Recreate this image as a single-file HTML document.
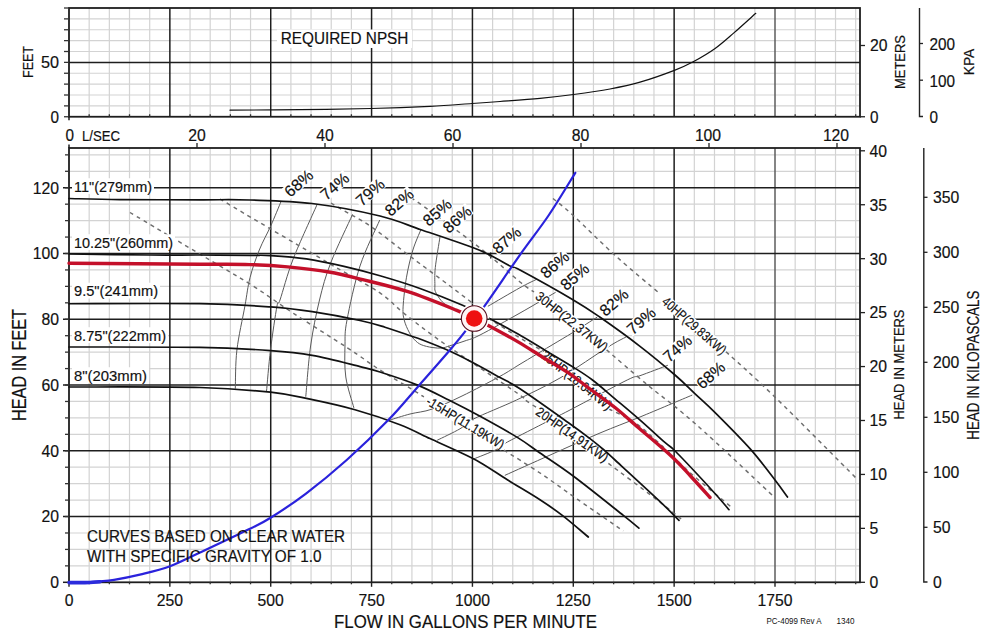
<!DOCTYPE html><html><head><meta charset="utf-8"><style>html,body{margin:0;padding:0;background:#fff;width:999px;height:639px;overflow:hidden}svg{display:block}text{font-family:"Liberation Sans",sans-serif}</style></head><body><svg width="999" height="639" viewBox="0 0 999 639"><rect width="999" height="639" fill="#fff"/>
<line x1="89.17" y1="8.00" x2="89.17" y2="116.75" stroke="#d3d3d3" stroke-width="1.2"/>
<line x1="109.34" y1="8.00" x2="109.34" y2="116.75" stroke="#d3d3d3" stroke-width="1.2"/>
<line x1="129.51" y1="8.00" x2="129.51" y2="116.75" stroke="#d3d3d3" stroke-width="1.2"/>
<line x1="149.69" y1="8.00" x2="149.69" y2="116.75" stroke="#d3d3d3" stroke-width="1.2"/>
<line x1="190.03" y1="8.00" x2="190.03" y2="116.75" stroke="#d3d3d3" stroke-width="1.2"/>
<line x1="210.20" y1="8.00" x2="210.20" y2="116.75" stroke="#d3d3d3" stroke-width="1.2"/>
<line x1="230.37" y1="8.00" x2="230.37" y2="116.75" stroke="#d3d3d3" stroke-width="1.2"/>
<line x1="250.54" y1="8.00" x2="250.54" y2="116.75" stroke="#d3d3d3" stroke-width="1.2"/>
<line x1="290.89" y1="8.00" x2="290.89" y2="116.75" stroke="#d3d3d3" stroke-width="1.2"/>
<line x1="311.06" y1="8.00" x2="311.06" y2="116.75" stroke="#d3d3d3" stroke-width="1.2"/>
<line x1="331.23" y1="8.00" x2="331.23" y2="116.75" stroke="#d3d3d3" stroke-width="1.2"/>
<line x1="351.40" y1="8.00" x2="351.40" y2="116.75" stroke="#d3d3d3" stroke-width="1.2"/>
<line x1="391.74" y1="8.00" x2="391.74" y2="116.75" stroke="#d3d3d3" stroke-width="1.2"/>
<line x1="411.92" y1="8.00" x2="411.92" y2="116.75" stroke="#d3d3d3" stroke-width="1.2"/>
<line x1="432.09" y1="8.00" x2="432.09" y2="116.75" stroke="#d3d3d3" stroke-width="1.2"/>
<line x1="452.26" y1="8.00" x2="452.26" y2="116.75" stroke="#d3d3d3" stroke-width="1.2"/>
<line x1="492.60" y1="8.00" x2="492.60" y2="116.75" stroke="#d3d3d3" stroke-width="1.2"/>
<line x1="512.77" y1="8.00" x2="512.77" y2="116.75" stroke="#d3d3d3" stroke-width="1.2"/>
<line x1="532.94" y1="8.00" x2="532.94" y2="116.75" stroke="#d3d3d3" stroke-width="1.2"/>
<line x1="553.12" y1="8.00" x2="553.12" y2="116.75" stroke="#d3d3d3" stroke-width="1.2"/>
<line x1="593.46" y1="8.00" x2="593.46" y2="116.75" stroke="#d3d3d3" stroke-width="1.2"/>
<line x1="613.63" y1="8.00" x2="613.63" y2="116.75" stroke="#d3d3d3" stroke-width="1.2"/>
<line x1="633.80" y1="8.00" x2="633.80" y2="116.75" stroke="#d3d3d3" stroke-width="1.2"/>
<line x1="653.97" y1="8.00" x2="653.97" y2="116.75" stroke="#d3d3d3" stroke-width="1.2"/>
<line x1="694.32" y1="8.00" x2="694.32" y2="116.75" stroke="#d3d3d3" stroke-width="1.2"/>
<line x1="714.49" y1="8.00" x2="714.49" y2="116.75" stroke="#d3d3d3" stroke-width="1.2"/>
<line x1="734.66" y1="8.00" x2="734.66" y2="116.75" stroke="#d3d3d3" stroke-width="1.2"/>
<line x1="754.83" y1="8.00" x2="754.83" y2="116.75" stroke="#d3d3d3" stroke-width="1.2"/>
<line x1="795.17" y1="8.00" x2="795.17" y2="116.75" stroke="#d3d3d3" stroke-width="1.2"/>
<line x1="815.35" y1="8.00" x2="815.35" y2="116.75" stroke="#d3d3d3" stroke-width="1.2"/>
<line x1="835.52" y1="8.00" x2="835.52" y2="116.75" stroke="#d3d3d3" stroke-width="1.2"/>
<line x1="855.69" y1="8.00" x2="855.69" y2="116.75" stroke="#d3d3d3" stroke-width="1.2"/>
<line x1="69.00" y1="105.88" x2="860.00" y2="105.88" stroke="#d3d3d3" stroke-width="1.2"/>
<line x1="69.00" y1="95.00" x2="860.00" y2="95.00" stroke="#d3d3d3" stroke-width="1.2"/>
<line x1="69.00" y1="84.12" x2="860.00" y2="84.12" stroke="#d3d3d3" stroke-width="1.2"/>
<line x1="69.00" y1="73.25" x2="860.00" y2="73.25" stroke="#d3d3d3" stroke-width="1.2"/>
<line x1="69.00" y1="51.50" x2="860.00" y2="51.50" stroke="#d3d3d3" stroke-width="1.2"/>
<line x1="69.00" y1="40.62" x2="860.00" y2="40.62" stroke="#d3d3d3" stroke-width="1.2"/>
<line x1="69.00" y1="29.75" x2="860.00" y2="29.75" stroke="#d3d3d3" stroke-width="1.2"/>
<line x1="69.00" y1="18.88" x2="860.00" y2="18.88" stroke="#d3d3d3" stroke-width="1.2"/>
<line x1="89.17" y1="148.00" x2="89.17" y2="582.30" stroke="#d3d3d3" stroke-width="1.2"/>
<line x1="109.34" y1="148.00" x2="109.34" y2="582.30" stroke="#d3d3d3" stroke-width="1.2"/>
<line x1="129.51" y1="148.00" x2="129.51" y2="582.30" stroke="#d3d3d3" stroke-width="1.2"/>
<line x1="149.69" y1="148.00" x2="149.69" y2="582.30" stroke="#d3d3d3" stroke-width="1.2"/>
<line x1="190.03" y1="148.00" x2="190.03" y2="582.30" stroke="#d3d3d3" stroke-width="1.2"/>
<line x1="210.20" y1="148.00" x2="210.20" y2="582.30" stroke="#d3d3d3" stroke-width="1.2"/>
<line x1="230.37" y1="148.00" x2="230.37" y2="582.30" stroke="#d3d3d3" stroke-width="1.2"/>
<line x1="250.54" y1="148.00" x2="250.54" y2="582.30" stroke="#d3d3d3" stroke-width="1.2"/>
<line x1="290.89" y1="148.00" x2="290.89" y2="582.30" stroke="#d3d3d3" stroke-width="1.2"/>
<line x1="311.06" y1="148.00" x2="311.06" y2="582.30" stroke="#d3d3d3" stroke-width="1.2"/>
<line x1="331.23" y1="148.00" x2="331.23" y2="582.30" stroke="#d3d3d3" stroke-width="1.2"/>
<line x1="351.40" y1="148.00" x2="351.40" y2="582.30" stroke="#d3d3d3" stroke-width="1.2"/>
<line x1="391.74" y1="148.00" x2="391.74" y2="582.30" stroke="#d3d3d3" stroke-width="1.2"/>
<line x1="411.92" y1="148.00" x2="411.92" y2="582.30" stroke="#d3d3d3" stroke-width="1.2"/>
<line x1="432.09" y1="148.00" x2="432.09" y2="582.30" stroke="#d3d3d3" stroke-width="1.2"/>
<line x1="452.26" y1="148.00" x2="452.26" y2="582.30" stroke="#d3d3d3" stroke-width="1.2"/>
<line x1="492.60" y1="148.00" x2="492.60" y2="582.30" stroke="#d3d3d3" stroke-width="1.2"/>
<line x1="512.77" y1="148.00" x2="512.77" y2="582.30" stroke="#d3d3d3" stroke-width="1.2"/>
<line x1="532.94" y1="148.00" x2="532.94" y2="582.30" stroke="#d3d3d3" stroke-width="1.2"/>
<line x1="553.12" y1="148.00" x2="553.12" y2="582.30" stroke="#d3d3d3" stroke-width="1.2"/>
<line x1="593.46" y1="148.00" x2="593.46" y2="582.30" stroke="#d3d3d3" stroke-width="1.2"/>
<line x1="613.63" y1="148.00" x2="613.63" y2="582.30" stroke="#d3d3d3" stroke-width="1.2"/>
<line x1="633.80" y1="148.00" x2="633.80" y2="582.30" stroke="#d3d3d3" stroke-width="1.2"/>
<line x1="653.97" y1="148.00" x2="653.97" y2="582.30" stroke="#d3d3d3" stroke-width="1.2"/>
<line x1="694.32" y1="148.00" x2="694.32" y2="582.30" stroke="#d3d3d3" stroke-width="1.2"/>
<line x1="714.49" y1="148.00" x2="714.49" y2="582.30" stroke="#d3d3d3" stroke-width="1.2"/>
<line x1="734.66" y1="148.00" x2="734.66" y2="582.30" stroke="#d3d3d3" stroke-width="1.2"/>
<line x1="754.83" y1="148.00" x2="754.83" y2="582.30" stroke="#d3d3d3" stroke-width="1.2"/>
<line x1="795.17" y1="148.00" x2="795.17" y2="582.30" stroke="#d3d3d3" stroke-width="1.2"/>
<line x1="815.35" y1="148.00" x2="815.35" y2="582.30" stroke="#d3d3d3" stroke-width="1.2"/>
<line x1="835.52" y1="148.00" x2="835.52" y2="582.30" stroke="#d3d3d3" stroke-width="1.2"/>
<line x1="855.69" y1="148.00" x2="855.69" y2="582.30" stroke="#d3d3d3" stroke-width="1.2"/>
<line x1="69.00" y1="565.86" x2="860.00" y2="565.86" stroke="#d3d3d3" stroke-width="1.2"/>
<line x1="69.00" y1="549.42" x2="860.00" y2="549.42" stroke="#d3d3d3" stroke-width="1.2"/>
<line x1="69.00" y1="532.98" x2="860.00" y2="532.98" stroke="#d3d3d3" stroke-width="1.2"/>
<line x1="69.00" y1="500.10" x2="860.00" y2="500.10" stroke="#d3d3d3" stroke-width="1.2"/>
<line x1="69.00" y1="483.66" x2="860.00" y2="483.66" stroke="#d3d3d3" stroke-width="1.2"/>
<line x1="69.00" y1="467.22" x2="860.00" y2="467.22" stroke="#d3d3d3" stroke-width="1.2"/>
<line x1="69.00" y1="434.34" x2="860.00" y2="434.34" stroke="#d3d3d3" stroke-width="1.2"/>
<line x1="69.00" y1="417.90" x2="860.00" y2="417.90" stroke="#d3d3d3" stroke-width="1.2"/>
<line x1="69.00" y1="401.46" x2="860.00" y2="401.46" stroke="#d3d3d3" stroke-width="1.2"/>
<line x1="69.00" y1="368.58" x2="860.00" y2="368.58" stroke="#d3d3d3" stroke-width="1.2"/>
<line x1="69.00" y1="352.14" x2="860.00" y2="352.14" stroke="#d3d3d3" stroke-width="1.2"/>
<line x1="69.00" y1="335.70" x2="860.00" y2="335.70" stroke="#d3d3d3" stroke-width="1.2"/>
<line x1="69.00" y1="302.82" x2="860.00" y2="302.82" stroke="#d3d3d3" stroke-width="1.2"/>
<line x1="69.00" y1="286.38" x2="860.00" y2="286.38" stroke="#d3d3d3" stroke-width="1.2"/>
<line x1="69.00" y1="269.94" x2="860.00" y2="269.94" stroke="#d3d3d3" stroke-width="1.2"/>
<line x1="69.00" y1="237.06" x2="860.00" y2="237.06" stroke="#d3d3d3" stroke-width="1.2"/>
<line x1="69.00" y1="220.62" x2="860.00" y2="220.62" stroke="#d3d3d3" stroke-width="1.2"/>
<line x1="69.00" y1="204.18" x2="860.00" y2="204.18" stroke="#d3d3d3" stroke-width="1.2"/>
<line x1="69.00" y1="171.30" x2="860.00" y2="171.30" stroke="#d3d3d3" stroke-width="1.2"/>
<line x1="69.00" y1="154.86" x2="860.00" y2="154.86" stroke="#d3d3d3" stroke-width="1.2"/>
<line x1="169.86" y1="8.00" x2="169.86" y2="116.75" stroke="#1e1e1e" stroke-width="1.5"/>
<line x1="169.86" y1="148.00" x2="169.86" y2="582.30" stroke="#1e1e1e" stroke-width="1.5"/>
<line x1="270.72" y1="8.00" x2="270.72" y2="116.75" stroke="#1e1e1e" stroke-width="1.5"/>
<line x1="270.72" y1="148.00" x2="270.72" y2="582.30" stroke="#1e1e1e" stroke-width="1.5"/>
<line x1="371.57" y1="8.00" x2="371.57" y2="116.75" stroke="#1e1e1e" stroke-width="1.5"/>
<line x1="371.57" y1="148.00" x2="371.57" y2="582.30" stroke="#1e1e1e" stroke-width="1.5"/>
<line x1="472.43" y1="8.00" x2="472.43" y2="116.75" stroke="#1e1e1e" stroke-width="1.5"/>
<line x1="472.43" y1="148.00" x2="472.43" y2="582.30" stroke="#1e1e1e" stroke-width="1.5"/>
<line x1="573.29" y1="8.00" x2="573.29" y2="116.75" stroke="#1e1e1e" stroke-width="1.5"/>
<line x1="573.29" y1="148.00" x2="573.29" y2="582.30" stroke="#1e1e1e" stroke-width="1.5"/>
<line x1="674.14" y1="8.00" x2="674.14" y2="116.75" stroke="#1e1e1e" stroke-width="1.5"/>
<line x1="674.14" y1="148.00" x2="674.14" y2="582.30" stroke="#1e1e1e" stroke-width="1.5"/>
<line x1="775.00" y1="8.00" x2="775.00" y2="116.75" stroke="#5c5c5c" stroke-width="1.5"/>
<line x1="775.00" y1="148.00" x2="775.00" y2="582.30" stroke="#5c5c5c" stroke-width="1.5"/>
<line x1="69.00" y1="62.38" x2="860.00" y2="62.38" stroke="#1e1e1e" stroke-width="1.5"/>
<line x1="63.00" y1="516.54" x2="860.00" y2="516.54" stroke="#1e1e1e" stroke-width="1.5"/>
<line x1="63.00" y1="450.78" x2="860.00" y2="450.78" stroke="#1e1e1e" stroke-width="1.5"/>
<line x1="63.00" y1="385.02" x2="860.00" y2="385.02" stroke="#1e1e1e" stroke-width="1.5"/>
<line x1="63.00" y1="319.26" x2="860.00" y2="319.26" stroke="#1e1e1e" stroke-width="1.5"/>
<line x1="63.00" y1="253.50" x2="860.00" y2="253.50" stroke="#1e1e1e" stroke-width="1.5"/>
<line x1="63.00" y1="187.74" x2="860.00" y2="187.74" stroke="#1e1e1e" stroke-width="1.5"/>
<rect x="69.00" y="8.00" width="791.00" height="108.75" fill="none" stroke="#1e1e1e" stroke-width="1.8"/>
<rect x="69.00" y="148.00" width="791.00" height="434.30" fill="none" stroke="#1e1e1e" stroke-width="1.8"/>
<line x1="65.00" y1="565.86" x2="69.00" y2="565.86" stroke="#333" stroke-width="1.3"/>
<line x1="65.00" y1="549.42" x2="69.00" y2="549.42" stroke="#333" stroke-width="1.3"/>
<line x1="65.00" y1="532.98" x2="69.00" y2="532.98" stroke="#333" stroke-width="1.3"/>
<line x1="65.00" y1="516.54" x2="69.00" y2="516.54" stroke="#333" stroke-width="1.3"/>
<line x1="65.00" y1="500.10" x2="69.00" y2="500.10" stroke="#333" stroke-width="1.3"/>
<line x1="65.00" y1="483.66" x2="69.00" y2="483.66" stroke="#333" stroke-width="1.3"/>
<line x1="65.00" y1="467.22" x2="69.00" y2="467.22" stroke="#333" stroke-width="1.3"/>
<line x1="65.00" y1="450.78" x2="69.00" y2="450.78" stroke="#333" stroke-width="1.3"/>
<line x1="65.00" y1="434.34" x2="69.00" y2="434.34" stroke="#333" stroke-width="1.3"/>
<line x1="65.00" y1="417.90" x2="69.00" y2="417.90" stroke="#333" stroke-width="1.3"/>
<line x1="65.00" y1="401.46" x2="69.00" y2="401.46" stroke="#333" stroke-width="1.3"/>
<line x1="65.00" y1="385.02" x2="69.00" y2="385.02" stroke="#333" stroke-width="1.3"/>
<line x1="65.00" y1="368.58" x2="69.00" y2="368.58" stroke="#333" stroke-width="1.3"/>
<line x1="65.00" y1="352.14" x2="69.00" y2="352.14" stroke="#333" stroke-width="1.3"/>
<line x1="65.00" y1="335.70" x2="69.00" y2="335.70" stroke="#333" stroke-width="1.3"/>
<line x1="65.00" y1="319.26" x2="69.00" y2="319.26" stroke="#333" stroke-width="1.3"/>
<line x1="65.00" y1="302.82" x2="69.00" y2="302.82" stroke="#333" stroke-width="1.3"/>
<line x1="65.00" y1="286.38" x2="69.00" y2="286.38" stroke="#333" stroke-width="1.3"/>
<line x1="65.00" y1="269.94" x2="69.00" y2="269.94" stroke="#333" stroke-width="1.3"/>
<line x1="65.00" y1="253.50" x2="69.00" y2="253.50" stroke="#333" stroke-width="1.3"/>
<line x1="65.00" y1="237.06" x2="69.00" y2="237.06" stroke="#333" stroke-width="1.3"/>
<line x1="65.00" y1="220.62" x2="69.00" y2="220.62" stroke="#333" stroke-width="1.3"/>
<line x1="65.00" y1="204.18" x2="69.00" y2="204.18" stroke="#333" stroke-width="1.3"/>
<line x1="65.00" y1="187.74" x2="69.00" y2="187.74" stroke="#333" stroke-width="1.3"/>
<line x1="65.00" y1="171.30" x2="69.00" y2="171.30" stroke="#333" stroke-width="1.3"/>
<line x1="65.00" y1="154.86" x2="69.00" y2="154.86" stroke="#333" stroke-width="1.3"/>
<line x1="63.00" y1="582.30" x2="69.00" y2="582.30" stroke="#1e1e1e" stroke-width="1.5"/>
<line x1="69.00" y1="582.30" x2="69.00" y2="586.80" stroke="#222" stroke-width="1.4"/>
<line x1="89.17" y1="582.30" x2="89.17" y2="584.30" stroke="#333" stroke-width="1.3"/>
<line x1="89.17" y1="116.75" x2="89.17" y2="114.25" stroke="#333" stroke-width="1.3"/>
<line x1="109.34" y1="582.30" x2="109.34" y2="584.30" stroke="#333" stroke-width="1.3"/>
<line x1="109.34" y1="116.75" x2="109.34" y2="114.25" stroke="#333" stroke-width="1.3"/>
<line x1="129.51" y1="582.30" x2="129.51" y2="584.30" stroke="#333" stroke-width="1.3"/>
<line x1="129.51" y1="116.75" x2="129.51" y2="114.25" stroke="#333" stroke-width="1.3"/>
<line x1="149.69" y1="582.30" x2="149.69" y2="584.30" stroke="#333" stroke-width="1.3"/>
<line x1="149.69" y1="116.75" x2="149.69" y2="114.25" stroke="#333" stroke-width="1.3"/>
<line x1="169.86" y1="582.30" x2="169.86" y2="586.80" stroke="#222" stroke-width="1.4"/>
<line x1="190.03" y1="582.30" x2="190.03" y2="584.30" stroke="#333" stroke-width="1.3"/>
<line x1="190.03" y1="116.75" x2="190.03" y2="114.25" stroke="#333" stroke-width="1.3"/>
<line x1="210.20" y1="582.30" x2="210.20" y2="584.30" stroke="#333" stroke-width="1.3"/>
<line x1="210.20" y1="116.75" x2="210.20" y2="114.25" stroke="#333" stroke-width="1.3"/>
<line x1="230.37" y1="582.30" x2="230.37" y2="584.30" stroke="#333" stroke-width="1.3"/>
<line x1="230.37" y1="116.75" x2="230.37" y2="114.25" stroke="#333" stroke-width="1.3"/>
<line x1="250.54" y1="582.30" x2="250.54" y2="584.30" stroke="#333" stroke-width="1.3"/>
<line x1="250.54" y1="116.75" x2="250.54" y2="114.25" stroke="#333" stroke-width="1.3"/>
<line x1="270.72" y1="582.30" x2="270.72" y2="586.80" stroke="#222" stroke-width="1.4"/>
<line x1="290.89" y1="582.30" x2="290.89" y2="584.30" stroke="#333" stroke-width="1.3"/>
<line x1="290.89" y1="116.75" x2="290.89" y2="114.25" stroke="#333" stroke-width="1.3"/>
<line x1="311.06" y1="582.30" x2="311.06" y2="584.30" stroke="#333" stroke-width="1.3"/>
<line x1="311.06" y1="116.75" x2="311.06" y2="114.25" stroke="#333" stroke-width="1.3"/>
<line x1="331.23" y1="582.30" x2="331.23" y2="584.30" stroke="#333" stroke-width="1.3"/>
<line x1="331.23" y1="116.75" x2="331.23" y2="114.25" stroke="#333" stroke-width="1.3"/>
<line x1="351.40" y1="582.30" x2="351.40" y2="584.30" stroke="#333" stroke-width="1.3"/>
<line x1="351.40" y1="116.75" x2="351.40" y2="114.25" stroke="#333" stroke-width="1.3"/>
<line x1="371.57" y1="582.30" x2="371.57" y2="586.80" stroke="#222" stroke-width="1.4"/>
<line x1="391.74" y1="582.30" x2="391.74" y2="584.30" stroke="#333" stroke-width="1.3"/>
<line x1="391.74" y1="116.75" x2="391.74" y2="114.25" stroke="#333" stroke-width="1.3"/>
<line x1="411.92" y1="582.30" x2="411.92" y2="584.30" stroke="#333" stroke-width="1.3"/>
<line x1="411.92" y1="116.75" x2="411.92" y2="114.25" stroke="#333" stroke-width="1.3"/>
<line x1="432.09" y1="582.30" x2="432.09" y2="584.30" stroke="#333" stroke-width="1.3"/>
<line x1="432.09" y1="116.75" x2="432.09" y2="114.25" stroke="#333" stroke-width="1.3"/>
<line x1="452.26" y1="582.30" x2="452.26" y2="584.30" stroke="#333" stroke-width="1.3"/>
<line x1="452.26" y1="116.75" x2="452.26" y2="114.25" stroke="#333" stroke-width="1.3"/>
<line x1="472.43" y1="582.30" x2="472.43" y2="586.80" stroke="#222" stroke-width="1.4"/>
<line x1="492.60" y1="582.30" x2="492.60" y2="584.30" stroke="#333" stroke-width="1.3"/>
<line x1="492.60" y1="116.75" x2="492.60" y2="114.25" stroke="#333" stroke-width="1.3"/>
<line x1="512.77" y1="582.30" x2="512.77" y2="584.30" stroke="#333" stroke-width="1.3"/>
<line x1="512.77" y1="116.75" x2="512.77" y2="114.25" stroke="#333" stroke-width="1.3"/>
<line x1="532.94" y1="582.30" x2="532.94" y2="584.30" stroke="#333" stroke-width="1.3"/>
<line x1="532.94" y1="116.75" x2="532.94" y2="114.25" stroke="#333" stroke-width="1.3"/>
<line x1="553.12" y1="582.30" x2="553.12" y2="584.30" stroke="#333" stroke-width="1.3"/>
<line x1="553.12" y1="116.75" x2="553.12" y2="114.25" stroke="#333" stroke-width="1.3"/>
<line x1="573.29" y1="582.30" x2="573.29" y2="586.80" stroke="#222" stroke-width="1.4"/>
<line x1="593.46" y1="582.30" x2="593.46" y2="584.30" stroke="#333" stroke-width="1.3"/>
<line x1="593.46" y1="116.75" x2="593.46" y2="114.25" stroke="#333" stroke-width="1.3"/>
<line x1="613.63" y1="582.30" x2="613.63" y2="584.30" stroke="#333" stroke-width="1.3"/>
<line x1="613.63" y1="116.75" x2="613.63" y2="114.25" stroke="#333" stroke-width="1.3"/>
<line x1="633.80" y1="582.30" x2="633.80" y2="584.30" stroke="#333" stroke-width="1.3"/>
<line x1="633.80" y1="116.75" x2="633.80" y2="114.25" stroke="#333" stroke-width="1.3"/>
<line x1="653.97" y1="582.30" x2="653.97" y2="584.30" stroke="#333" stroke-width="1.3"/>
<line x1="653.97" y1="116.75" x2="653.97" y2="114.25" stroke="#333" stroke-width="1.3"/>
<line x1="674.14" y1="582.30" x2="674.14" y2="586.80" stroke="#222" stroke-width="1.4"/>
<line x1="694.32" y1="582.30" x2="694.32" y2="584.30" stroke="#333" stroke-width="1.3"/>
<line x1="694.32" y1="116.75" x2="694.32" y2="114.25" stroke="#333" stroke-width="1.3"/>
<line x1="714.49" y1="582.30" x2="714.49" y2="584.30" stroke="#333" stroke-width="1.3"/>
<line x1="714.49" y1="116.75" x2="714.49" y2="114.25" stroke="#333" stroke-width="1.3"/>
<line x1="734.66" y1="582.30" x2="734.66" y2="584.30" stroke="#333" stroke-width="1.3"/>
<line x1="734.66" y1="116.75" x2="734.66" y2="114.25" stroke="#333" stroke-width="1.3"/>
<line x1="754.83" y1="582.30" x2="754.83" y2="584.30" stroke="#333" stroke-width="1.3"/>
<line x1="754.83" y1="116.75" x2="754.83" y2="114.25" stroke="#333" stroke-width="1.3"/>
<line x1="775.00" y1="582.30" x2="775.00" y2="586.80" stroke="#222" stroke-width="1.4"/>
<line x1="795.17" y1="582.30" x2="795.17" y2="584.30" stroke="#333" stroke-width="1.3"/>
<line x1="795.17" y1="116.75" x2="795.17" y2="114.25" stroke="#333" stroke-width="1.3"/>
<line x1="815.35" y1="582.30" x2="815.35" y2="584.30" stroke="#333" stroke-width="1.3"/>
<line x1="815.35" y1="116.75" x2="815.35" y2="114.25" stroke="#333" stroke-width="1.3"/>
<line x1="835.52" y1="582.30" x2="835.52" y2="584.30" stroke="#333" stroke-width="1.3"/>
<line x1="835.52" y1="116.75" x2="835.52" y2="114.25" stroke="#333" stroke-width="1.3"/>
<line x1="855.69" y1="582.30" x2="855.69" y2="584.30" stroke="#333" stroke-width="1.3"/>
<line x1="855.69" y1="116.75" x2="855.69" y2="114.25" stroke="#333" stroke-width="1.3"/>
<line x1="64.00" y1="116.75" x2="69.00" y2="116.75" stroke="#333" stroke-width="1.3"/>
<line x1="64.00" y1="105.88" x2="69.00" y2="105.88" stroke="#333" stroke-width="1.3"/>
<line x1="64.00" y1="95.00" x2="69.00" y2="95.00" stroke="#333" stroke-width="1.3"/>
<line x1="64.00" y1="84.12" x2="69.00" y2="84.12" stroke="#333" stroke-width="1.3"/>
<line x1="64.00" y1="73.25" x2="69.00" y2="73.25" stroke="#333" stroke-width="1.3"/>
<line x1="64.00" y1="62.38" x2="69.00" y2="62.38" stroke="#333" stroke-width="1.3"/>
<line x1="64.00" y1="51.50" x2="69.00" y2="51.50" stroke="#333" stroke-width="1.3"/>
<line x1="64.00" y1="40.62" x2="69.00" y2="40.62" stroke="#333" stroke-width="1.3"/>
<line x1="64.00" y1="29.75" x2="69.00" y2="29.75" stroke="#333" stroke-width="1.3"/>
<line x1="64.00" y1="18.88" x2="69.00" y2="18.88" stroke="#333" stroke-width="1.3"/>
<line x1="64.00" y1="8.00" x2="69.00" y2="8.00" stroke="#333" stroke-width="1.3"/>
<line x1="69.00" y1="116.75" x2="69.00" y2="120.25" stroke="#1e1e1e" stroke-width="1.5"/>
<line x1="69.00" y1="144.50" x2="69.00" y2="148.00" stroke="#1e1e1e" stroke-width="1.5"/>
<line x1="197.00" y1="148.00" x2="197.00" y2="143.00" stroke="#222" stroke-width="1.3"/>
<line x1="325.00" y1="148.00" x2="325.00" y2="143.00" stroke="#222" stroke-width="1.3"/>
<line x1="453.00" y1="148.00" x2="453.00" y2="143.00" stroke="#222" stroke-width="1.3"/>
<line x1="581.00" y1="148.00" x2="581.00" y2="143.00" stroke="#222" stroke-width="1.3"/>
<line x1="709.00" y1="148.00" x2="709.00" y2="143.00" stroke="#222" stroke-width="1.3"/>
<line x1="837.00" y1="148.00" x2="837.00" y2="143.00" stroke="#222" stroke-width="1.3"/>
<line x1="860.00" y1="45.50" x2="865.00" y2="45.50" stroke="#222" stroke-width="1.3"/>
<line x1="860.00" y1="116.75" x2="865.00" y2="116.75" stroke="#222" stroke-width="1.3"/>
<path d="M919.5,8 V116.5 H923" fill="none" stroke="#222" stroke-width="1.4"/>
<line x1="919.50" y1="43.50" x2="923.00" y2="43.50" stroke="#222" stroke-width="1.3"/>
<line x1="919.50" y1="80.20" x2="923.00" y2="80.20" stroke="#222" stroke-width="1.3"/>
<line x1="860.00" y1="582.30" x2="865.00" y2="582.30" stroke="#222" stroke-width="1.3"/>
<line x1="860.00" y1="528.36" x2="865.00" y2="528.36" stroke="#222" stroke-width="1.3"/>
<line x1="860.00" y1="474.43" x2="865.00" y2="474.43" stroke="#222" stroke-width="1.3"/>
<line x1="860.00" y1="420.49" x2="865.00" y2="420.49" stroke="#222" stroke-width="1.3"/>
<line x1="860.00" y1="366.55" x2="865.00" y2="366.55" stroke="#222" stroke-width="1.3"/>
<line x1="860.00" y1="312.61" x2="865.00" y2="312.61" stroke="#222" stroke-width="1.3"/>
<line x1="860.00" y1="258.68" x2="865.00" y2="258.68" stroke="#222" stroke-width="1.3"/>
<line x1="860.00" y1="204.74" x2="865.00" y2="204.74" stroke="#222" stroke-width="1.3"/>
<line x1="860.00" y1="150.80" x2="865.00" y2="150.80" stroke="#222" stroke-width="1.3"/>
<path d="M923.8,148 V582 H927.5" fill="none" stroke="#222" stroke-width="1.4"/>
<line x1="923.80" y1="527.30" x2="927.50" y2="527.30" stroke="#222" stroke-width="1.3"/>
<line x1="923.80" y1="472.30" x2="927.50" y2="472.30" stroke="#222" stroke-width="1.3"/>
<line x1="923.80" y1="417.30" x2="927.50" y2="417.30" stroke="#222" stroke-width="1.3"/>
<line x1="923.80" y1="362.30" x2="927.50" y2="362.30" stroke="#222" stroke-width="1.3"/>
<line x1="923.80" y1="307.30" x2="927.50" y2="307.30" stroke="#222" stroke-width="1.3"/>
<line x1="923.80" y1="252.30" x2="927.50" y2="252.30" stroke="#222" stroke-width="1.3"/>
<line x1="923.80" y1="197.30" x2="927.50" y2="197.30" stroke="#222" stroke-width="1.3"/>
<path d="M230.00,110.20 C241.67,110.10 276.50,109.88 300.00,109.60 C323.50,109.32 349.33,109.05 371.00,108.50 C392.67,107.95 413.17,107.13 430.00,106.30 C446.83,105.47 460.33,104.30 472.00,103.50 C483.67,102.70 488.67,102.37 500.00,101.50 C511.33,100.63 527.75,99.47 540.00,98.30 C552.25,97.13 561.83,96.05 573.50,94.50 C585.17,92.95 598.92,91.05 610.00,89.00 C621.08,86.95 629.27,85.30 640.00,82.20 C650.73,79.10 665.53,73.80 674.40,70.40 C683.27,67.00 686.42,65.45 693.20,61.80 C699.98,58.15 708.32,53.32 715.10,48.50 C721.88,43.68 727.12,38.77 733.90,32.90 C740.68,27.03 752.15,16.57 755.80,13.30" fill="none" stroke="#111" stroke-width="1.2" stroke-linecap="round" stroke-linejoin="round" />
<path d="M281.00,201.60 C279.28,205.67 274.32,217.93 270.70,226.00 C267.08,234.07 262.75,241.38 259.30,250.00 C255.85,258.62 252.40,268.35 250.00,277.70 C247.60,287.05 247.08,294.05 244.90,306.10 C242.72,318.15 238.50,336.30 236.90,350.00 C235.30,363.70 235.57,381.92 235.30,388.30" fill="none" stroke="#5a5a5a" stroke-width="1.0" stroke-linecap="round" stroke-linejoin="round" />
<path d="M316.70,205.40 C312.78,214.32 299.32,243.13 293.20,258.90 C287.08,274.67 282.70,292.15 280.00,300.00 C277.30,307.85 278.58,297.67 277.00,306.00 C275.42,314.33 272.25,335.75 270.50,350.00 C268.75,364.25 267.17,384.58 266.50,391.50" fill="none" stroke="#5a5a5a" stroke-width="1.0" stroke-linecap="round" stroke-linejoin="round" />
<path d="M352.40,214.80 C348.80,222.78 336.28,248.50 330.80,262.70 C325.32,276.90 322.87,286.12 319.50,300.00 C316.13,313.88 312.88,329.95 310.60,346.00 C308.32,362.05 306.60,387.92 305.80,396.30" fill="none" stroke="#5a5a5a" stroke-width="1.0" stroke-linecap="round" stroke-linejoin="round" />
<path d="M379.60,220.40 C376.33,228.00 365.43,249.40 360.00,266.00 C354.57,282.60 349.50,306.83 347.00,320.00 C344.50,333.17 345.20,335.50 345.00,345.00 C344.80,354.50 344.33,366.58 345.80,377.00 C347.27,387.42 352.47,402.42 353.80,407.50" fill="none" stroke="#5a5a5a" stroke-width="1.0" stroke-linecap="round" stroke-linejoin="round" />
<path d="M420.90,229.70 C419.57,233.08 415.30,242.08 412.90,250.00 C410.50,257.92 408.13,267.72 406.50,277.20 C404.87,286.68 403.48,299.77 403.10,306.90 C402.72,314.03 403.20,315.80 404.20,320.00 C405.20,324.20 407.37,328.80 409.10,332.10 C410.83,335.40 412.58,337.70 414.60,339.80 C416.62,341.90 418.28,343.42 421.20,344.70 C424.12,345.98 428.63,346.95 432.10,347.50 C435.57,348.05 439.07,348.28 442.00,348.00 C444.93,347.72 445.87,346.98 449.70,345.80 C453.53,344.62 459.95,342.70 465.00,340.90 C470.05,339.10 470.83,339.65 480.00,335.00 C489.17,330.35 507.45,320.08 520.00,313.00 C532.55,305.92 549.42,295.92 555.30,292.50" fill="none" stroke="#5a5a5a" stroke-width="1.0" stroke-linecap="round" stroke-linejoin="round" />
<path d="M440.00,236.90 C439.22,242.02 436.15,259.58 435.30,267.60 C434.45,275.62 434.88,281.00 434.90,285.00 C434.92,289.00 434.40,289.05 435.40,291.60 C436.40,294.15 439.13,298.07 440.90,300.30 C442.67,302.53 445.15,304.22 446.00,305.00" fill="none" stroke="#5a5a5a" stroke-width="1.0" stroke-linecap="round" stroke-linejoin="round" />
<path d="M488.20,306.10 C493.50,303.03 512.03,292.12 520.00,287.70 C527.97,283.28 533.33,280.95 536.00,279.60" fill="none" stroke="#5a5a5a" stroke-width="1.0" stroke-linecap="round" stroke-linejoin="round" />
<path d="M390.00,420.00 C393.33,419.00 402.98,415.82 410.00,414.00 C417.02,412.18 423.43,412.10 432.10,409.10 C440.77,406.10 450.68,401.47 462.00,396.00 C473.32,390.53 490.33,381.60 500.00,376.30 C509.67,371.00 511.33,369.42 520.00,364.20 C528.67,358.98 543.22,350.27 552.00,345.00 C560.78,339.73 565.22,337.22 572.70,332.60 C580.18,327.98 592.87,319.85 596.90,317.30" fill="none" stroke="#5a5a5a" stroke-width="1.0" stroke-linecap="round" stroke-linejoin="round" />
<path d="M437.50,440.10 C441.25,438.22 453.93,432.35 460.00,428.80 C466.07,425.25 464.48,423.60 473.90,418.80 C483.32,414.00 502.15,406.80 516.50,400.00 C530.85,393.20 544.75,386.83 560.00,378.00 C575.25,369.17 597.00,353.83 608.00,347.00 C619.00,340.17 623.00,338.67 626.00,337.00" fill="none" stroke="#5a5a5a" stroke-width="1.0" stroke-linecap="round" stroke-linejoin="round" />
<path d="M473.90,458.90 C477.45,457.43 490.20,452.60 495.20,450.10 C500.20,447.60 495.97,448.28 503.90,443.90 C511.83,439.52 531.78,429.45 542.80,423.80 C553.82,418.15 555.93,417.30 570.00,410.00 C584.07,402.70 615.53,385.72 627.20,380.00 C638.87,374.28 633.28,378.13 640.00,375.70 C646.72,373.27 662.92,367.12 667.50,365.40" fill="none" stroke="#5a5a5a" stroke-width="1.0" stroke-linecap="round" stroke-linejoin="round" />
<path d="M505.20,475.20 C512.67,471.85 534.20,462.13 550.00,455.10 C565.80,448.07 585.00,439.35 600.00,433.00 C615.00,426.65 624.68,423.30 640.00,417.00 C655.32,410.70 683.25,398.83 691.90,395.20" fill="none" stroke="#5a5a5a" stroke-width="1.0" stroke-linecap="round" stroke-linejoin="round" />
<line x1="490.70" y1="252.50" x2="490.70" y2="258.50" stroke="#111" stroke-width="1.4"/>
<path d="M130.00,212.50 C142.73,220.08 186.08,245.88 206.40,258.00 C226.72,270.12 237.20,275.85 251.90,285.20 C266.60,294.55 278.68,303.67 294.60,314.10 C310.52,324.53 333.17,338.48 347.40,347.80 C361.63,357.12 369.35,363.15 380.00,370.00 C390.65,376.85 403.98,384.40 411.30,388.90 C418.62,393.40 421.80,395.65 423.90,397.00" fill="none" stroke="#6e6e6e" stroke-width="1.45" stroke-linejoin="round" stroke-dasharray="4 4" stroke-linecap="butt"/>
<path d="M503.90,450.10 C509.92,453.92 527.78,464.83 540.00,473.00 C552.22,481.17 563.32,489.43 577.20,499.10 C591.08,508.77 615.62,525.68 623.30,531.00" fill="none" stroke="#6e6e6e" stroke-width="1.45" stroke-linejoin="round" stroke-dasharray="4 4" stroke-linecap="butt"/>
<path d="M220.00,199.00 C225.47,202.25 237.47,209.45 252.80,218.50 C268.13,227.55 297.97,245.05 312.00,253.30 C326.03,261.55 325.73,261.43 337.00,268.00 C348.27,274.57 368.28,285.02 379.60,292.70 C390.92,300.38 394.28,305.72 404.90,314.10 C415.52,322.48 424.62,329.85 443.30,343.00 C461.98,356.15 503.35,383.50 517.00,393.00 C530.65,402.50 521.95,397.58 525.20,400.00 C528.45,402.42 534.62,406.25 536.50,407.50" fill="none" stroke="#6e6e6e" stroke-width="1.45" stroke-linejoin="round" stroke-dasharray="4 4" stroke-linecap="butt"/>
<path d="M608.40,463.40 C616.33,469.35 643.88,489.85 656.00,499.10 C668.12,508.35 676.92,515.60 681.10,518.90" fill="none" stroke="#6e6e6e" stroke-width="1.45" stroke-linejoin="round" stroke-dasharray="4 4" stroke-linecap="butt"/>
<path d="M331.00,203.00 C333.78,204.65 341.17,209.07 347.70,212.90 C354.23,216.73 359.60,218.62 370.20,226.00 C380.80,233.38 398.00,247.20 411.30,257.20 C424.60,267.20 439.85,278.38 450.00,286.00 C460.15,293.62 468.50,300.08 472.20,302.90" fill="none" stroke="#6e6e6e" stroke-width="1.45" stroke-linejoin="round" stroke-dasharray="4 4" stroke-linecap="butt"/>
<path d="M488.00,318.00 C493.33,321.33 510.50,332.33 520.00,338.00 C529.50,343.67 540.83,349.67 545.00,352.00" fill="none" stroke="#6e6e6e" stroke-width="1.45" stroke-linejoin="round" stroke-dasharray="4 4" stroke-linecap="butt"/>
<path d="M609.00,409.00 C613.40,411.33 626.90,417.17 635.40,423.00 C643.90,428.83 650.73,435.58 660.00,444.00 C669.27,452.42 679.15,463.02 691.00,473.50 C702.85,483.98 724.42,501.33 731.10,506.90" fill="none" stroke="#6e6e6e" stroke-width="1.45" stroke-linejoin="round" stroke-dasharray="4 4" stroke-linecap="butt"/>
<path d="M411.30,197.70 C416.37,201.30 429.42,210.25 441.70,219.30 C453.98,228.35 471.95,241.55 485.00,252.00 C498.05,262.45 511.83,275.33 520.00,282.00 C528.17,288.67 531.67,290.33 534.00,292.00" fill="none" stroke="#6e6e6e" stroke-width="1.45" stroke-linejoin="round" stroke-dasharray="4 4" stroke-linecap="butt"/>
<path d="M606.50,349.80 C613.35,355.67 635.35,374.85 647.60,385.00 C659.85,395.15 668.78,401.30 680.00,410.70 C691.22,420.10 699.22,427.02 714.90,441.40 C730.58,455.78 764.23,487.73 774.10,497.00" fill="none" stroke="#6e6e6e" stroke-width="1.45" stroke-linejoin="round" stroke-dasharray="4 4" stroke-linecap="butt"/>
<path d="M553.00,198.50 C556.33,201.30 562.47,205.65 573.00,215.30 C583.53,224.95 601.80,243.40 616.20,256.40 C630.60,269.40 652.20,287.15 659.40,293.30" fill="none" stroke="#6e6e6e" stroke-width="1.45" stroke-linejoin="round" stroke-dasharray="4 4" stroke-linecap="butt"/>
<path d="M726.00,351.70 C734.05,359.15 752.47,375.18 774.30,396.40 C796.13,417.62 843.22,465.23 857.00,479.00" fill="none" stroke="#6e6e6e" stroke-width="1.45" stroke-linejoin="round" stroke-dasharray="4 4" stroke-linecap="butt"/>
<rect x="72.00" y="178.25" width="82.00" height="15.75" fill="#fff"/>
<text x="74.00" y="191.97" font-size="15" text-anchor="start" fill="#111" stroke="#111" stroke-width="0.18" textLength="78.00" lengthAdjust="spacingAndGlyphs">11&quot;(279mm)</text>
<rect x="72.00" y="234.25" width="103.00" height="15.75" fill="#fff"/>
<text x="74.00" y="247.97" font-size="15" text-anchor="start" fill="#111" stroke="#111" stroke-width="0.18" textLength="99.00" lengthAdjust="spacingAndGlyphs">10.25&quot;(260mm)</text>
<rect x="72.00" y="282.75" width="88.00" height="15.75" fill="#fff"/>
<text x="74.00" y="296.47" font-size="15" text-anchor="start" fill="#111" stroke="#111" stroke-width="0.18" textLength="84.00" lengthAdjust="spacingAndGlyphs">9.5&quot;(241mm)</text>
<rect x="72.00" y="327.25" width="96.00" height="15.75" fill="#fff"/>
<text x="74.00" y="340.97" font-size="15" text-anchor="start" fill="#111" stroke="#111" stroke-width="0.18" textLength="92.00" lengthAdjust="spacingAndGlyphs">8.75&quot;(222mm)</text>
<rect x="72.00" y="367.25" width="77.00" height="15.75" fill="#fff"/>
<text x="74.00" y="380.97" font-size="15" text-anchor="start" fill="#111" stroke="#111" stroke-width="0.18" textLength="73.00" lengthAdjust="spacingAndGlyphs">8&quot;(203mm)</text>
<g transform="translate(298.60 183.00) rotate(-41.00)"><rect x="-16.50" y="-6.72" width="33.00" height="13.44" fill="#fff"/></g>
<g transform="translate(298.60 183.00) rotate(-41.00)"><text x="0" y="5.83" font-size="16" text-anchor="middle" fill="#111" stroke="#111" stroke-width="0.18" textLength="32.00" lengthAdjust="spacingAndGlyphs">68%</text></g>
<g transform="translate(334.60 186.00) rotate(-41.00)"><rect x="-16.50" y="-6.72" width="33.00" height="13.44" fill="#fff"/></g>
<g transform="translate(334.60 186.00) rotate(-41.00)"><text x="0" y="5.83" font-size="16" text-anchor="middle" fill="#111" stroke="#111" stroke-width="0.18" textLength="32.00" lengthAdjust="spacingAndGlyphs">74%</text></g>
<g transform="translate(370.00 192.00) rotate(-41.00)"><rect x="-16.50" y="-6.72" width="33.00" height="13.44" fill="#fff"/></g>
<g transform="translate(370.00 192.00) rotate(-41.00)"><text x="0" y="5.83" font-size="16" text-anchor="middle" fill="#111" stroke="#111" stroke-width="0.18" textLength="32.00" lengthAdjust="spacingAndGlyphs">79%</text></g>
<g transform="translate(399.00 202.00) rotate(-41.00)"><rect x="-16.50" y="-6.72" width="33.00" height="13.44" fill="#fff"/></g>
<g transform="translate(399.00 202.00) rotate(-41.00)"><text x="0" y="5.83" font-size="16" text-anchor="middle" fill="#111" stroke="#111" stroke-width="0.18" textLength="32.00" lengthAdjust="spacingAndGlyphs">82%</text></g>
<g transform="translate(437.00 212.00) rotate(-41.00)"><rect x="-16.50" y="-6.72" width="33.00" height="13.44" fill="#fff"/></g>
<g transform="translate(437.00 212.00) rotate(-41.00)"><text x="0" y="5.83" font-size="16" text-anchor="middle" fill="#111" stroke="#111" stroke-width="0.18" textLength="32.00" lengthAdjust="spacingAndGlyphs">85%</text></g>
<g transform="translate(457.00 219.00) rotate(-41.00)"><rect x="-16.50" y="-6.72" width="33.00" height="13.44" fill="#fff"/></g>
<g transform="translate(457.00 219.00) rotate(-41.00)"><text x="0" y="5.83" font-size="16" text-anchor="middle" fill="#111" stroke="#111" stroke-width="0.18" textLength="32.00" lengthAdjust="spacingAndGlyphs">86%</text></g>
<g transform="translate(506.60 239.90) rotate(-41.00)"><rect x="-16.50" y="-6.72" width="33.00" height="13.44" fill="#fff"/></g>
<g transform="translate(506.60 239.90) rotate(-41.00)"><text x="0" y="5.83" font-size="16" text-anchor="middle" fill="#111" stroke="#111" stroke-width="0.18" textLength="32.00" lengthAdjust="spacingAndGlyphs">87%</text></g>
<g transform="translate(554.50 264.40) rotate(-41.00)"><rect x="-16.50" y="-6.72" width="33.00" height="13.44" fill="#fff"/></g>
<g transform="translate(554.50 264.40) rotate(-41.00)"><text x="0" y="5.83" font-size="16" text-anchor="middle" fill="#111" stroke="#111" stroke-width="0.18" textLength="32.00" lengthAdjust="spacingAndGlyphs">86%</text></g>
<g transform="translate(574.50 276.40) rotate(-41.00)"><rect x="-16.50" y="-6.72" width="33.00" height="13.44" fill="#fff"/></g>
<g transform="translate(574.50 276.40) rotate(-41.00)"><text x="0" y="5.83" font-size="16" text-anchor="middle" fill="#111" stroke="#111" stroke-width="0.18" textLength="32.00" lengthAdjust="spacingAndGlyphs">85%</text></g>
<g transform="translate(613.80 302.10) rotate(-41.00)"><rect x="-16.50" y="-6.72" width="33.00" height="13.44" fill="#fff"/></g>
<g transform="translate(613.80 302.10) rotate(-41.00)"><text x="0" y="5.83" font-size="16" text-anchor="middle" fill="#111" stroke="#111" stroke-width="0.18" textLength="32.00" lengthAdjust="spacingAndGlyphs">82%</text></g>
<g transform="translate(641.00 320.50) rotate(-41.00)"><rect x="-16.50" y="-6.72" width="33.00" height="13.44" fill="#fff"/></g>
<g transform="translate(641.00 320.50) rotate(-41.00)"><text x="0" y="5.83" font-size="16" text-anchor="middle" fill="#111" stroke="#111" stroke-width="0.18" textLength="32.00" lengthAdjust="spacingAndGlyphs">79%</text></g>
<g transform="translate(677.20 348.20) rotate(-41.00)"><rect x="-16.50" y="-6.72" width="33.00" height="13.44" fill="#fff"/></g>
<g transform="translate(677.20 348.20) rotate(-41.00)"><text x="0" y="5.83" font-size="16" text-anchor="middle" fill="#111" stroke="#111" stroke-width="0.18" textLength="32.00" lengthAdjust="spacingAndGlyphs">74%</text></g>
<g transform="translate(710.60 375.00) rotate(-41.00)"><rect x="-16.50" y="-6.72" width="33.00" height="13.44" fill="#fff"/></g>
<g transform="translate(710.60 375.00) rotate(-41.00)"><text x="0" y="5.83" font-size="16" text-anchor="middle" fill="#111" stroke="#111" stroke-width="0.18" textLength="32.00" lengthAdjust="spacingAndGlyphs">68%</text></g>
<g transform="translate(465.50 422.50) rotate(31.18)"><rect x="-44.92" y="-5.67" width="89.84" height="11.34" fill="#fff"/></g>
<g transform="translate(465.50 422.50) rotate(31.18)"><text x="0" y="4.92" font-size="13.5" text-anchor="middle" fill="#111" stroke="#111" stroke-width="0.18" textLength="88.84" lengthAdjust="spacingAndGlyphs">-15HP(11.19KW)</text></g>
<g transform="translate(572.50 434.40) rotate(35.00)"><rect x="-43.00" y="-5.67" width="86.00" height="11.34" fill="#fff"/></g>
<g transform="translate(572.50 434.40) rotate(35.00)"><text x="0" y="4.92" font-size="13.5" text-anchor="middle" fill="#111" stroke="#111" stroke-width="0.18" textLength="85.00" lengthAdjust="spacingAndGlyphs">20HP(14.91KW)</text></g>
<g transform="translate(577.00 380.00) rotate(38.50)"><rect x="-43.65" y="-5.67" width="87.30" height="11.34" fill="#fff"/></g>
<g transform="translate(577.00 380.00) rotate(38.50)"><text x="0" y="4.92" font-size="13.5" text-anchor="middle" fill="#111" stroke="#111" stroke-width="0.18" textLength="86.30" lengthAdjust="spacingAndGlyphs">25HP(18.64KW)</text></g>
<g transform="translate(572.00 321.50) rotate(38.30)"><rect x="-44.50" y="-5.67" width="89.00" height="11.34" fill="#fff"/></g>
<g transform="translate(572.00 321.50) rotate(38.30)"><text x="0" y="4.92" font-size="13.5" text-anchor="middle" fill="#111" stroke="#111" stroke-width="0.18" textLength="88.00" lengthAdjust="spacingAndGlyphs">30HP(22.37KW)</text></g>
<g transform="translate(694.50 325.50) rotate(41.00)"><rect x="-40.50" y="-5.67" width="81.00" height="11.34" fill="#fff"/></g>
<g transform="translate(694.50 325.50) rotate(41.00)"><text x="0" y="4.92" font-size="13.5" text-anchor="middle" fill="#111" stroke="#111" stroke-width="0.18" textLength="80.00" lengthAdjust="spacingAndGlyphs">40HP(29.83KW)</text></g>
<path d="M69.00,198.50 C77.50,198.68 98.17,199.38 120.00,199.60 C141.83,199.82 178.33,199.73 200.00,199.80 C221.67,199.87 231.33,199.38 250.00,200.00 C268.67,200.62 290.33,200.83 312.00,203.50 C333.67,206.17 361.83,211.63 380.00,216.00 C398.17,220.37 405.67,224.48 421.00,229.70 C436.33,234.92 460.38,243.02 472.00,247.30 C483.62,251.58 484.15,252.18 490.70,255.40 C497.25,258.62 506.42,264.17 511.30,266.60 C516.18,269.03 509.73,264.48 520.00,270.00 C530.27,275.52 559.55,291.82 572.90,299.70 C586.25,307.58 588.92,309.53 600.10,317.30 C611.28,325.07 627.52,336.68 640.00,346.30 C652.48,355.92 665.82,367.08 675.00,375.00 C684.18,382.92 688.42,387.53 695.10,393.80 C701.78,400.07 705.92,403.42 715.10,412.60 C724.28,421.78 740.18,437.63 750.20,448.90 C760.22,460.17 768.98,472.18 775.20,480.20 C781.42,488.22 785.45,494.20 787.50,497.00" fill="none" stroke="#111" stroke-width="1.7" stroke-linecap="round" stroke-linejoin="round" />
<path d="M69.00,254.00 C82.50,254.17 128.17,254.83 150.00,255.00 C171.83,255.17 183.33,254.95 200.00,255.00 C216.67,255.05 238.22,255.20 250.00,255.30 C261.78,255.40 261.30,255.00 270.70,255.60 C280.10,256.20 294.18,257.10 306.40,258.90 C318.62,260.70 331.73,263.58 344.00,266.40 C356.27,269.22 367.33,272.12 380.00,275.80 C392.67,279.48 406.23,283.58 420.00,288.50 C433.77,293.42 451.35,300.47 462.60,305.30 C473.85,310.13 478.33,312.75 487.50,317.50 C496.67,322.25 508.40,328.58 517.60,333.80 C526.80,339.02 533.30,343.17 542.70,348.80 C552.10,354.43 565.70,362.40 574.00,367.60 C582.30,372.80 585.67,374.80 592.50,380.00 C599.33,385.20 607.07,392.12 615.00,398.80 C622.93,405.48 631.73,412.78 640.10,420.10 C648.47,427.42 659.53,437.72 665.20,442.70 C670.87,447.68 669.10,445.12 674.10,450.00 C679.10,454.88 688.17,464.50 695.20,472.00 C702.23,479.50 710.67,488.72 716.30,495.00 C721.93,501.28 726.88,507.25 729.00,509.70" fill="none" stroke="#111" stroke-width="1.7" stroke-linecap="round" stroke-linejoin="round" />
<path d="M69.00,303.75 C90.83,303.74 166.42,303.18 200.00,303.70 C233.58,304.22 251.80,305.57 270.50,306.90 C289.20,308.23 297.28,309.43 312.20,311.70 C327.12,313.97 347.87,317.92 360.00,320.50 C372.13,323.08 377.00,324.78 385.00,327.20 C393.00,329.62 401.73,332.87 408.00,335.00 C414.27,337.13 415.57,337.28 422.60,340.00 C429.63,342.72 441.85,347.53 450.20,351.30 C458.55,355.07 464.40,358.22 472.70,362.60 C481.00,366.98 492.12,373.23 500.00,377.60 C507.88,381.97 508.65,381.32 520.00,388.80 C531.35,396.28 556.43,414.20 568.10,422.50 C579.77,430.80 584.02,434.02 590.00,438.60 C595.98,443.18 599.83,446.43 604.00,450.00 C608.17,453.57 605.83,451.57 615.00,460.00 C624.17,468.43 648.33,490.55 659.00,500.60 C669.67,510.65 675.67,517.02 679.00,520.30" fill="none" stroke="#111" stroke-width="1.7" stroke-linecap="round" stroke-linejoin="round" />
<path d="M69.00,347.00 C90.83,347.07 166.42,346.80 200.00,347.40 C233.58,348.00 251.80,349.27 270.50,350.60 C289.20,351.93 297.28,352.73 312.20,355.40 C327.12,358.07 348.70,363.83 360.00,366.60 C371.30,369.37 370.40,368.92 380.00,372.00 C389.60,375.08 406.13,380.43 417.60,385.10 C429.07,389.77 438.38,394.80 448.80,400.00 C459.22,405.20 468.62,410.03 480.10,416.30 C491.58,422.57 507.72,431.48 517.70,437.60 C527.68,443.72 530.58,446.47 540.00,453.00 C549.42,459.53 560.32,466.40 574.20,476.80 C588.08,487.20 612.52,506.85 623.30,515.40 C634.08,523.95 636.30,525.98 638.90,528.10" fill="none" stroke="#111" stroke-width="1.7" stroke-linecap="round" stroke-linejoin="round" />
<path d="M69.00,387.00 C90.83,387.08 166.42,386.63 200.00,387.50 C233.58,388.37 252.17,390.25 270.50,392.20 C288.83,394.15 295.92,396.27 310.00,399.20 C324.08,402.13 340.00,405.55 355.00,409.80 C370.00,414.05 387.50,419.90 400.00,424.70 C412.50,429.50 420.82,434.38 430.00,438.60 C439.18,442.82 446.75,446.03 455.10,450.00 C463.45,453.97 471.33,457.40 480.10,462.40 C488.87,467.40 497.72,473.77 507.70,480.00 C517.68,486.23 530.90,493.90 540.00,499.80 C549.10,505.70 554.25,509.20 562.30,515.40 C570.35,521.60 583.97,533.40 588.30,537.00" fill="none" stroke="#111" stroke-width="1.7" stroke-linecap="round" stroke-linejoin="round" />
<path d="M69.00,263.20 C90.83,263.37 169.83,263.97 200.00,264.20 C230.17,264.43 235.40,264.15 250.00,264.60 C264.60,265.05 274.45,265.67 287.60,266.90 C300.75,268.13 316.38,269.88 328.90,272.00 C341.42,274.12 349.52,276.32 362.70,279.60 C375.88,282.88 392.42,286.62 408.00,291.70 C423.58,296.78 445.20,305.65 456.20,310.10 C467.20,314.55 468.57,315.80 474.00,318.40 C479.43,321.00 481.53,321.83 488.80,325.70 C496.07,329.57 508.62,336.35 517.60,341.60 C526.58,346.85 534.35,352.07 542.70,357.20 C551.05,362.33 559.82,367.10 567.70,372.40 C575.58,377.70 582.12,383.15 590.00,389.00 C597.88,394.85 606.67,400.83 615.00,407.50 C623.33,414.17 630.55,420.83 640.00,429.00 C649.45,437.17 663.28,448.67 671.70,456.50 C680.12,464.33 684.12,469.17 690.50,476.00 C696.88,482.83 706.75,493.92 710.00,497.50" fill="none" stroke="#c4102a" stroke-width="3.4" stroke-linecap="round" stroke-linejoin="round" />
<path d="M69.00,582.00 C72.50,582.00 82.50,582.37 90.00,582.00 C97.50,581.63 105.50,581.07 114.00,579.80 C122.50,578.53 131.67,576.65 141.00,574.40 C150.33,572.15 160.17,569.95 170.00,566.30 C179.83,562.65 186.67,558.76 200.00,552.50 C213.33,546.24 238.17,534.58 250.00,528.75 C261.83,522.92 261.67,523.36 271.00,517.50 C280.33,511.64 293.38,503.18 306.00,493.60 C318.62,484.02 332.90,472.33 346.70,460.00 C360.50,447.67 376.78,431.98 388.80,419.60 C400.82,407.22 408.78,397.08 418.80,385.70 C428.82,374.32 441.20,360.30 448.90,351.30 C456.60,342.30 460.82,337.18 465.00,331.70 C469.18,326.22 470.67,322.80 474.00,318.40 C477.33,314.00 477.33,315.90 485.00,305.30 C492.67,294.70 509.35,269.85 520.00,254.80 C530.65,239.75 539.68,228.67 548.90,215.00 C558.12,201.33 570.90,179.83 575.30,172.80" fill="none" stroke="#2a22dc" stroke-width="2.2" stroke-linecap="round" stroke-linejoin="round" />
<path d="M69.00,582.60 C71.67,582.60 79.83,582.73 85.00,582.60 C90.17,582.47 97.50,581.93 100.00,581.80" fill="none" stroke="#2b2bdc" stroke-width="3.6" stroke-linecap="round" stroke-linejoin="round" />
<circle cx="474.2" cy="318.5" r="15" fill="#fff"/>
<clipPath id="mk"><circle cx="474.2" cy="318.5" r="15"/></clipPath><g clip-path="url(#mk)">
<line x1="458.00" y1="319.26" x2="491.00" y2="319.26" stroke="#1e1e1e" stroke-width="1.5"/>
<line x1="472.43" y1="302.00" x2="472.43" y2="335.00" stroke="#1e1e1e" stroke-width="1.5"/>
<line x1="452.26" y1="302.00" x2="452.26" y2="335.00" stroke="#d3d3d3" stroke-width="1.2"/>
<line x1="458.00" y1="302.82" x2="491.00" y2="302.82" stroke="#d3d3d3" stroke-width="1.2"/>
<line x1="458.00" y1="335.70" x2="491.00" y2="335.70" stroke="#d3d3d3" stroke-width="1.2"/>
</g>
<circle cx="474.2" cy="318.5" r="12.8" fill="#fff5f5" stroke="#5a1020" stroke-width="1.1"/>
<circle cx="474.2" cy="318.5" r="8.3" fill="#ee1111"/>
<rect x="277" y="29.5" width="135" height="18.5" fill="#fff"/>
<text x="280.80" y="43.60" font-size="15.8" text-anchor="start" fill="#111" stroke="#111" stroke-width="0.18" textLength="127.60" lengthAdjust="spacingAndGlyphs">REQUIRED NPSH</text>
<g transform="translate(27.50 62.00) rotate(-90.00)"><text x="0" y="5.29" font-size="14.5" text-anchor="middle" fill="#111" stroke="#111" stroke-width="0.18" textLength="32.00" lengthAdjust="spacingAndGlyphs">FEET</text></g>
<text x="59.00" y="67.83" font-size="16" text-anchor="end" fill="#111" stroke="#111" stroke-width="0.18" textLength="18.00" lengthAdjust="spacingAndGlyphs">50</text>
<text x="59.00" y="122.83" font-size="16" text-anchor="end" fill="#111" stroke="#111" stroke-width="0.18" textLength="8.50" lengthAdjust="spacingAndGlyphs">0</text>
<text x="65.50" y="140.83" font-size="16" text-anchor="start" fill="#111" stroke="#111" stroke-width="0.18" textLength="8.50" lengthAdjust="spacingAndGlyphs">0</text>
<text x="82.00" y="140.50" font-size="14" text-anchor="start" fill="#111" stroke="#111" stroke-width="0.18" textLength="38.00" lengthAdjust="spacingAndGlyphs">L/SEC</text>
<g transform="translate(197.00 135.00) rotate(0.00)"><text x="0" y="5.83" font-size="16" text-anchor="middle" fill="#111" stroke="#111" stroke-width="0.18" textLength="17.50" lengthAdjust="spacingAndGlyphs">20</text></g>
<g transform="translate(325.00 135.00) rotate(0.00)"><text x="0" y="5.83" font-size="16" text-anchor="middle" fill="#111" stroke="#111" stroke-width="0.18" textLength="17.50" lengthAdjust="spacingAndGlyphs">40</text></g>
<g transform="translate(452.50 135.00) rotate(0.00)"><text x="0" y="5.83" font-size="16" text-anchor="middle" fill="#111" stroke="#111" stroke-width="0.18" textLength="17.50" lengthAdjust="spacingAndGlyphs">60</text></g>
<g transform="translate(580.50 135.00) rotate(0.00)"><text x="0" y="5.83" font-size="16" text-anchor="middle" fill="#111" stroke="#111" stroke-width="0.18" textLength="17.50" lengthAdjust="spacingAndGlyphs">80</text></g>
<g transform="translate(708.00 135.00) rotate(0.00)"><text x="0" y="5.83" font-size="16" text-anchor="middle" fill="#111" stroke="#111" stroke-width="0.18" textLength="26.25" lengthAdjust="spacingAndGlyphs">100</text></g>
<g transform="translate(836.00 135.00) rotate(0.00)"><text x="0" y="5.83" font-size="16" text-anchor="middle" fill="#111" stroke="#111" stroke-width="0.18" textLength="26.25" lengthAdjust="spacingAndGlyphs">120</text></g>
<text x="870.00" y="51.33" font-size="16" text-anchor="start" fill="#111" stroke="#111" stroke-width="0.18" textLength="17.50" lengthAdjust="spacingAndGlyphs">20</text>
<text x="870.00" y="123.33" font-size="16" text-anchor="start" fill="#111" stroke="#111" stroke-width="0.18" textLength="8.50" lengthAdjust="spacingAndGlyphs">0</text>
<g transform="translate(900.00 62.00) rotate(-90.00)"><text x="0" y="5.47" font-size="15" text-anchor="middle" fill="#111" stroke="#111" stroke-width="0.18" textLength="54.00" lengthAdjust="spacingAndGlyphs">METERS</text></g>
<text x="929.50" y="50.33" font-size="16" text-anchor="start" fill="#111" stroke="#111" stroke-width="0.18" textLength="25.50" lengthAdjust="spacingAndGlyphs">200</text>
<text x="929.50" y="87.03" font-size="16" text-anchor="start" fill="#111" stroke="#111" stroke-width="0.18" textLength="25.50" lengthAdjust="spacingAndGlyphs">100</text>
<text x="929.50" y="122.83" font-size="16" text-anchor="start" fill="#111" stroke="#111" stroke-width="0.18" textLength="8.50" lengthAdjust="spacingAndGlyphs">0</text>
<g transform="translate(968.60 62.00) rotate(-90.00)"><text x="0" y="5.47" font-size="15" text-anchor="middle" fill="#111" stroke="#111" stroke-width="0.18" textLength="26.50" lengthAdjust="spacingAndGlyphs">KPA</text></g>
<text x="59.00" y="588.13" font-size="16" text-anchor="end" fill="#111" stroke="#111" stroke-width="0.18" textLength="8.75" lengthAdjust="spacingAndGlyphs">0</text>
<text x="59.00" y="522.37" font-size="16" text-anchor="end" fill="#111" stroke="#111" stroke-width="0.18" textLength="17.50" lengthAdjust="spacingAndGlyphs">20</text>
<text x="59.00" y="456.61" font-size="16" text-anchor="end" fill="#111" stroke="#111" stroke-width="0.18" textLength="17.50" lengthAdjust="spacingAndGlyphs">40</text>
<text x="59.00" y="390.85" font-size="16" text-anchor="end" fill="#111" stroke="#111" stroke-width="0.18" textLength="17.50" lengthAdjust="spacingAndGlyphs">60</text>
<text x="59.00" y="325.09" font-size="16" text-anchor="end" fill="#111" stroke="#111" stroke-width="0.18" textLength="17.50" lengthAdjust="spacingAndGlyphs">80</text>
<text x="59.00" y="259.33" font-size="16" text-anchor="end" fill="#111" stroke="#111" stroke-width="0.18" textLength="26.25" lengthAdjust="spacingAndGlyphs">100</text>
<text x="59.00" y="193.57" font-size="16" text-anchor="end" fill="#111" stroke="#111" stroke-width="0.18" textLength="26.25" lengthAdjust="spacingAndGlyphs">120</text>
<g transform="translate(18.50 365.00) rotate(-90.00)"><text x="0" y="7.29" font-size="20" text-anchor="middle" fill="#111" stroke="#111" stroke-width="0.18" textLength="112.00" lengthAdjust="spacingAndGlyphs">HEAD IN FEET</text></g>
<g transform="translate(69.00 600.00) rotate(0.00)"><text x="0" y="5.83" font-size="16" text-anchor="middle" fill="#111" stroke="#111" stroke-width="0.18" textLength="8.75" lengthAdjust="spacingAndGlyphs">0</text></g>
<g transform="translate(169.86 600.00) rotate(0.00)"><text x="0" y="5.83" font-size="16" text-anchor="middle" fill="#111" stroke="#111" stroke-width="0.18" textLength="26.25" lengthAdjust="spacingAndGlyphs">250</text></g>
<g transform="translate(270.72 600.00) rotate(0.00)"><text x="0" y="5.83" font-size="16" text-anchor="middle" fill="#111" stroke="#111" stroke-width="0.18" textLength="26.25" lengthAdjust="spacingAndGlyphs">500</text></g>
<g transform="translate(371.57 600.00) rotate(0.00)"><text x="0" y="5.83" font-size="16" text-anchor="middle" fill="#111" stroke="#111" stroke-width="0.18" textLength="26.25" lengthAdjust="spacingAndGlyphs">750</text></g>
<g transform="translate(472.43 600.00) rotate(0.00)"><text x="0" y="5.83" font-size="16" text-anchor="middle" fill="#111" stroke="#111" stroke-width="0.18" textLength="35.00" lengthAdjust="spacingAndGlyphs">1000</text></g>
<g transform="translate(573.29 600.00) rotate(0.00)"><text x="0" y="5.83" font-size="16" text-anchor="middle" fill="#111" stroke="#111" stroke-width="0.18" textLength="35.00" lengthAdjust="spacingAndGlyphs">1250</text></g>
<g transform="translate(674.14 600.00) rotate(0.00)"><text x="0" y="5.83" font-size="16" text-anchor="middle" fill="#111" stroke="#111" stroke-width="0.18" textLength="35.00" lengthAdjust="spacingAndGlyphs">1500</text></g>
<g transform="translate(775.00 600.00) rotate(0.00)"><text x="0" y="5.83" font-size="16" text-anchor="middle" fill="#111" stroke="#111" stroke-width="0.18" textLength="35.00" lengthAdjust="spacingAndGlyphs">1750</text></g>
<text x="334.00" y="628.00" font-size="17.5" text-anchor="start" fill="#111" stroke="#111" stroke-width="0.18" textLength="263.00" lengthAdjust="spacingAndGlyphs">FLOW IN GALLONS PER MINUTE</text>
<text x="766.50" y="623.50" font-size="8.5" text-anchor="start" fill="#111" textLength="55.00" lengthAdjust="spacingAndGlyphs">PC-4099 Rev A</text>
<text x="836.50" y="623.50" font-size="8.5" text-anchor="start" fill="#111" textLength="18.00" lengthAdjust="spacingAndGlyphs">1340</text>
<text x="869.50" y="588.13" font-size="16" text-anchor="start" fill="#111" stroke="#111" stroke-width="0.18" textLength="8.75" lengthAdjust="spacingAndGlyphs">0</text>
<text x="869.50" y="534.19" font-size="16" text-anchor="start" fill="#111" stroke="#111" stroke-width="0.18" textLength="8.75" lengthAdjust="spacingAndGlyphs">5</text>
<text x="869.50" y="480.26" font-size="16" text-anchor="start" fill="#111" stroke="#111" stroke-width="0.18" textLength="17.50" lengthAdjust="spacingAndGlyphs">10</text>
<text x="869.50" y="426.32" font-size="16" text-anchor="start" fill="#111" stroke="#111" stroke-width="0.18" textLength="17.50" lengthAdjust="spacingAndGlyphs">15</text>
<text x="869.50" y="372.38" font-size="16" text-anchor="start" fill="#111" stroke="#111" stroke-width="0.18" textLength="17.50" lengthAdjust="spacingAndGlyphs">20</text>
<text x="869.50" y="318.45" font-size="16" text-anchor="start" fill="#111" stroke="#111" stroke-width="0.18" textLength="17.50" lengthAdjust="spacingAndGlyphs">25</text>
<text x="869.50" y="264.51" font-size="16" text-anchor="start" fill="#111" stroke="#111" stroke-width="0.18" textLength="17.50" lengthAdjust="spacingAndGlyphs">30</text>
<text x="869.50" y="210.57" font-size="16" text-anchor="start" fill="#111" stroke="#111" stroke-width="0.18" textLength="17.50" lengthAdjust="spacingAndGlyphs">35</text>
<text x="869.50" y="156.64" font-size="16" text-anchor="start" fill="#111" stroke="#111" stroke-width="0.18" textLength="17.50" lengthAdjust="spacingAndGlyphs">40</text>
<g transform="translate(899.30 364.50) rotate(-90.00)"><text x="0" y="5.10" font-size="14" text-anchor="middle" fill="#111" stroke="#111" stroke-width="0.18" textLength="110.00" lengthAdjust="spacingAndGlyphs">HEAD IN METERS</text></g>
<text x="933.00" y="588.13" font-size="16" text-anchor="start" fill="#111" stroke="#111" stroke-width="0.18" textLength="8.75" lengthAdjust="spacingAndGlyphs">0</text>
<text x="933.00" y="533.13" font-size="16" text-anchor="start" fill="#111" stroke="#111" stroke-width="0.18" textLength="17.50" lengthAdjust="spacingAndGlyphs">50</text>
<text x="933.00" y="478.13" font-size="16" text-anchor="start" fill="#111" stroke="#111" stroke-width="0.18" textLength="26.25" lengthAdjust="spacingAndGlyphs">100</text>
<text x="933.00" y="423.13" font-size="16" text-anchor="start" fill="#111" stroke="#111" stroke-width="0.18" textLength="26.25" lengthAdjust="spacingAndGlyphs">150</text>
<text x="933.00" y="368.13" font-size="16" text-anchor="start" fill="#111" stroke="#111" stroke-width="0.18" textLength="26.25" lengthAdjust="spacingAndGlyphs">200</text>
<text x="933.00" y="313.13" font-size="16" text-anchor="start" fill="#111" stroke="#111" stroke-width="0.18" textLength="26.25" lengthAdjust="spacingAndGlyphs">250</text>
<text x="933.00" y="258.13" font-size="16" text-anchor="start" fill="#111" stroke="#111" stroke-width="0.18" textLength="26.25" lengthAdjust="spacingAndGlyphs">300</text>
<text x="933.00" y="203.13" font-size="16" text-anchor="start" fill="#111" stroke="#111" stroke-width="0.18" textLength="26.25" lengthAdjust="spacingAndGlyphs">350</text>
<g transform="translate(973.30 365.20) rotate(-90.00)"><text x="0" y="5.83" font-size="16" text-anchor="middle" fill="#111" stroke="#111" stroke-width="0.18" textLength="149.00" lengthAdjust="spacingAndGlyphs">HEAD IN KILOPASCALS</text></g>
<text x="87.00" y="541.75" font-size="16.5" text-anchor="start" fill="#111" stroke="#111" stroke-width="0.18" textLength="258.00" lengthAdjust="spacingAndGlyphs">CURVES BASED ON CLEAR WATER</text>
<text x="87.00" y="562.00" font-size="16.5" text-anchor="start" fill="#111" stroke="#111" stroke-width="0.18" textLength="234.50" lengthAdjust="spacingAndGlyphs">WITH SPECIFIC GRAVITY OF 1.0</text>
</svg></body></html>
